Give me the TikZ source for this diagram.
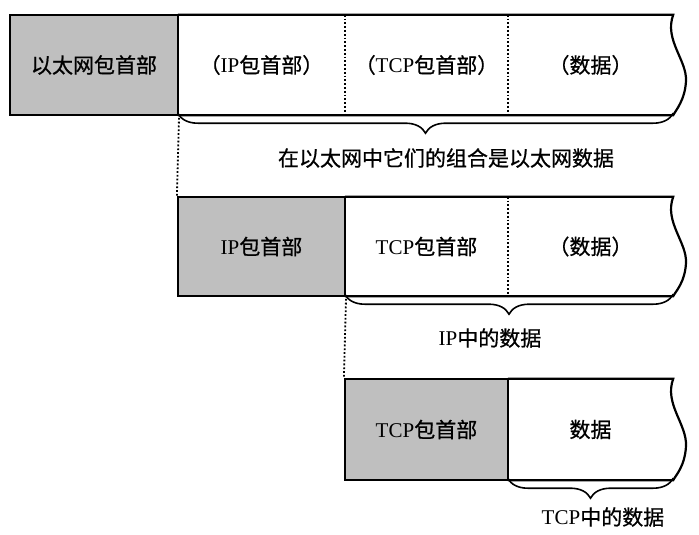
\documentclass[tikz,border=0pt]{standalone}
\usepackage{fontspec}
\setmainfont{Liberation Serif}
\newfontfamily\cjk[FakeBold=0.8]{Noto Sans CJK SC}
\newcommand\zh[1]{{\cjk #1}}
\usetikzlibrary{decorations.pathreplacing}
\tikzset{
  hdrbox/.style={draw, line width=2.2pt, fill=gray!50, inner sep=0pt, font=\fontsize{21}{25}\selectfont},
  fieldbox/.style={inner sep=0pt, font=\fontsize{21}{25}\selectfont},
  lbltxt/.style={font=\fontsize{21}{25}\selectfont},
  outline/.style={line width=2.2pt},
  divline/.style={dotted, line width=1.8pt},
  underbrace/.style={decorate, decoration={brace, mirror, amplitude=20pt}, line width=1.6pt},
}
\begin{document}
\begin{tikzpicture}[x=1pt,y=-1pt]
\useasboundingbox (0,0) rectangle (699,535);
% row 1: Ethernet frame
\node[fieldbox, minimum width=167pt, minimum height=100pt] (ipa) at (261.5,65) {\zh{（}IP\zh{包首部）}};
\node[fieldbox, minimum width=163pt, minimum height=100pt] (tcpa) at (426.5,65) {\zh{（}TCP\zh{包首部）}};
\node[fieldbox, minimum width=165pt, minimum height=100pt] (dataa) at (590.5,65) {\zh{（数据）}};
\draw[outline] (ipa.north west) -- (dataa.north east)
  .. controls (664,40) and (687,60) .. (686,81)
  .. controls (685,100) and (676,110) .. (dataa.south east) -- (ipa.south west);
\draw[divline] (ipa.north east) -- (ipa.south east);
\draw[divline] (tcpa.north east) -- (tcpa.south east);
\node[hdrbox, minimum width=168pt, minimum height=100pt] (eth) at (94,65) {\zh{以太网包首部}};
\draw[underbrace] ([yshift=2pt]ipa.south west) -- ([yshift=2pt]dataa.south east);
\node[lbltxt] (ethlbl) at (446,158) {\zh{在以太网中它们的组合是以太网数据}};
% row 2: IP packet
\node[fieldbox, minimum width=163pt, minimum height=99pt] (tcpb) at (426.5,246.5) {TCP\zh{包首部}};
\node[fieldbox, minimum width=165pt, minimum height=99pt] (datab) at (590.5,246.5) {\zh{（数据）}};
\draw[outline] (tcpb.north west) -- (datab.north east)
  .. controls (664,222) and (687,242) .. (686,263)
  .. controls (685,282) and (676,291) .. (datab.south east) -- (tcpb.south west);
\draw[divline] (tcpb.north east) -- (tcpb.south east);
\node[hdrbox, minimum width=167pt, minimum height=99pt] (iphdr) at (261.5,246.5) {IP\zh{包首部}};
\draw[divline] ([yshift=2pt]eth.south east) -- (iphdr.north west);
\draw[underbrace] ([yshift=2pt]tcpb.south west) -- ([yshift=2pt]datab.south east);
\node[lbltxt] (iplbl) at (490,338) {IP\zh{中的数据}};
% row 3: TCP segment
\node[fieldbox, minimum width=165pt, minimum height=101pt] (datac) at (590.5,429.5) {\zh{数据}};
\draw[outline] (datac.north west) -- (datac.north east)
  .. controls (664,404) and (687,424) .. (686,446)
  .. controls (685,466) and (676,475) .. (datac.south east) -- (datac.south west);
\node[hdrbox, minimum width=163pt, minimum height=101pt] (tcphdr) at (426.5,429.5) {TCP\zh{包首部}};
\draw[divline] ([yshift=2pt]iphdr.south east) -- (tcphdr.north west);
\draw[underbrace] ([yshift=2pt]datac.south west) -- ([yshift=2pt]datac.south east);
\node[lbltxt] (tcplbl) at (603,517) {TCP\zh{中的数据}};
\end{tikzpicture}
\end{document}
